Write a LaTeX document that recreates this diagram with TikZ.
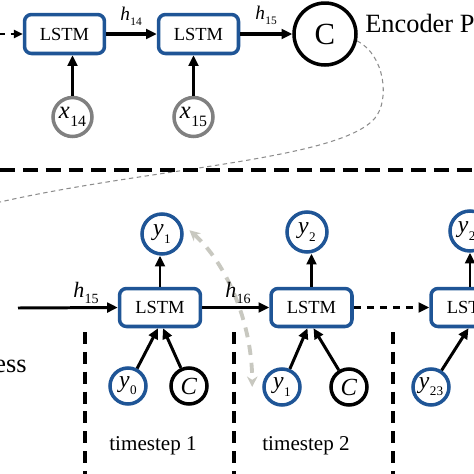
\documentclass[tikz,border=0pt]{standalone}
\usepackage{fontspec}
\setmainfont{Liberation Serif}
\usetikzlibrary{arrows.meta}
\definecolor{lstmblue}{HTML}{1F5596}
\definecolor{circgray}{HTML}{808080}
\definecolor{pathgray}{HTML}{C8C8C0}
\definecolor{curvegray}{HTML}{8C8C8C}
\newcommand{\isub}[3]{\textit{#1}\kern0.02em\raisebox{-0.3em}{\fontsize{#3}{#3}\selectfont #2}}
\begin{document}
\begin{tikzpicture}[x=0.02cm,y=-0.02cm,
  lstm/.style={draw=lstmblue, line width=2pt, rounded corners=0.14cm, fill=white,
    minimum width=1.6cm, minimum height=0.78cm, inner sep=0pt,
    font=\fontsize{10.5}{10.5}\selectfont},
  xcirc/.style={draw=circgray, line width=2pt, circle, minimum size=0.78cm, inner sep=0pt,
    font=\fontsize{14}{14}\selectfont},
  ycirc/.style={draw=lstmblue, line width=2pt, circle, minimum size=0.8cm, inner sep=0pt,
    font=\fontsize{13.5}{13.5}\selectfont},
  ybcirc/.style={draw=lstmblue, line width=2pt, circle, minimum size=0.72cm, inner sep=0pt,
    font=\fontsize{13.5}{13.5}\selectfont},
  ccirc/.style={draw=black, line width=2pt, circle, minimum size=0.72cm, inner sep=0pt,
    font=\fontsize{14}{14}\selectfont},
  bigc/.style={draw=black, line width=2pt, circle, minimum size=1.24cm, inner sep=0pt,
    font=\fontsize{17.5}{17.5}\selectfont},
  arr/.style={line width=2pt, -{Triangle[length=6pt,width=5.5pt]}},
  barr/.style={line width=1.7pt, -{Triangle[length=6pt,width=5.5pt]}},
  dasharr/.style={line width=1.6pt, dash pattern=on 4pt off 3.4pt, -{Triangle[length=6pt,width=5.5pt]}},
  indash/.style={line width=1.2pt, dash pattern=on 3pt off 3pt, -{Triangle[length=5pt,width=4.5pt]}},
  sepline/.style={line width=2.3pt, dash pattern=on 8.5pt off 4.5pt},
  stepline/.style={line width=2.2pt, dash pattern=on 6.8pt off 4.5pt},
  hlabtop/.style={anchor=base, inner sep=0pt, font=\fontsize{11}{11}\selectfont},
  hlabbot/.style={anchor=base, inner sep=0pt, font=\fontsize{12.5}{12.5}\selectfont},
  stepl/.style={inner sep=0pt, font=\fontsize{12}{12}\selectfont},
  bigtext/.style={inner sep=0pt, font=\fontsize{15}{15}\selectfont},
  feedback/.style={draw=pathgray, line width=2.2pt, dash pattern=on 5.7pt off 4.5pt,
    {Stealth[length=6pt,width=6pt]}-{Stealth[length=6pt,width=6pt]}},
  thincurve/.style={draw=curvegray, line width=0.6pt, dash pattern=on 2.5pt off 2pt}
]
\useasboundingbox (0,0) rectangle (474,474);
\clip (0,0) rectangle (474,474);

% ---------- encoder ----------
\node[lstm] (L1) at (64.5,34) {LSTM};
\node[lstm] (L2) at (198.5,34) {LSTM};
\node[xcirc] (x14) at (72.5,117) {\isub{x}{14}{9}};
\node[xcirc] (x15) at (193.5,117) {\isub{x}{15}{9}};
\node[bigc] (C) at (325,34) {C};
\node[bigtext, anchor=base west] (enc) at (365,32) {Encoder P};
\coordinate (inL) at (0,34);

\draw[indash] (inL) -- (L1.west);
\draw[arr] (L1.east) -- (L2.west);
\draw[arr] (L2.east) -- (C.west);
\draw[arr] (x14.north) -- (x14.north |- L1.south);
\draw[arr] (x15.north) -- (x15.north |- L2.south);
\node[hlabtop] (h14) at (131,20) {\isub{h}{14}{6.5}};
\node[hlabtop] (h15t) at (266,19) {\isub{h}{15}{6.5}};

% thin dashed curve from C
\draw[thincurve] (C.-12) .. controls (385,55) and (390,100) .. (375,118)
  .. controls (340,160) and (150,168) .. (0,202);

% separator
\draw[sepline] (0,170) -- (474,170);

% ---------- decoder ----------
\node[lstm, minimum width=1.62cm, minimum height=0.76cm] (D1) at (160,307.5) {LSTM};
\node[lstm, minimum width=1.62cm, minimum height=0.76cm] (D2) at (311.5,307.5) {LSTM};
\node[lstm, minimum width=1.62cm, minimum height=0.76cm] (D3) at (471.5,307.5) {LSTM};

\node[ycirc] (Y1) at (162,234) {\isub{y}{1}{7.5}};
\node[ycirc] (Y2) at (307,232) {\isub{y}{2}{7.5}};
\node[ycirc] (Y3) at (470,231) {\isub{y}{24}{7.5}};

\node[ybcirc] (y0) at (128,386) {\isub{y}{0}{7.5}};
\node[ccirc] (c1) at (189,386) {\textit{C}};
\node[ybcirc] (y1b) at (282,387) {\isub{y}{1}{7.5}};
\node[ccirc] (c2) at (349,387) {\textit{C}};
\node[ybcirc] (y23) at (431,387) {\isub{y}{23}{7.5}};

% feedback arrow (behind the other connectors)
\draw[feedback] ([xshift=0.12cm]Y1.10) .. controls (225,262) and (252,320) .. ([xshift=-0.2cm]y1b.west);

\coordinate (hin) at (18,308);
\draw[barr] (hin) -- (D1.west);
\draw[barr] (D1.east) -- (D2.west);
\draw[dasharr] (D2.east) -- (D3.west);
\node[hlabbot] (h15b) at (86,297) {\isub{h}{15}{8}};
\node[hlabbot] (h16) at (238,297) {\isub{h}{16}{8}};

\draw[barr] (D1.north) -- (D1.north |- Y1.south);
\draw[barr] (D2.north) -- (D2.north |- Y2.south);
\draw[barr] (D3.north -| Y3.south) -- (Y3.south);

\draw[barr] (y0) -- ([xshift=-0.04cm]D1.south);
\draw[barr] (c1) -- ([xshift=0.06cm]D1.south);
\draw[barr] (y1b) -- ([xshift=-0.08cm]D2.south);
\draw[barr] (c2) -- ([xshift=0.04cm]D2.south);
\draw[barr] (y23) -- ([xshift=-0.06cm]D3.south);

% timestep separators
\draw[stepline] (85,332) -- (85,474);
\draw[stepline] (234,332) -- (234,474);
\draw[stepline] (393,332) -- (393,474);

\node[stepl] (t1) at (153,446) {timestep 1};
\node[stepl] (t2) at (306,446) {timestep 2};
\node[bigtext, anchor=base east] (dec) at (27,372) {ess};
\end{tikzpicture}
\end{document}
